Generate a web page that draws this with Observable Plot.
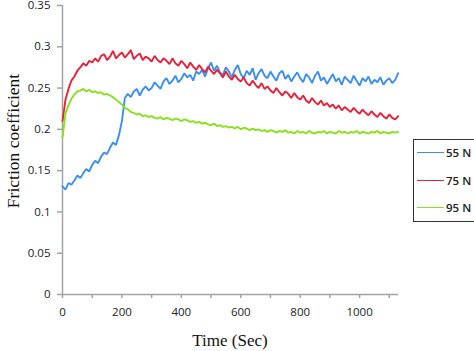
<!DOCTYPE html>
<html>
<head>
<meta charset="utf-8">
<script src="https://cdn.jsdelivr.net/npm/d3@7"></script>
<script src="https://cdn.jsdelivr.net/npm/@observablehq/plot@0.6"></script>
<style>
  html, body { margin: 0; padding: 0; background: #fff; overflow: hidden; }
  #wrap { position: relative; width: 474px; height: 351px; }
  #legend { position: absolute; left: 413px; top: 139px; width: 70px; height: 83px;
    border: 1px solid #333; background: #fff; box-sizing: border-box;
    font-family: "Open Sans", sans-serif; font-weight: 600; font-size: 11.5px; color: #222; }
  .item { position: absolute; left: 3px; display: flex; align-items: center; }
  .sw { width: 27px; height: 0; border-top: 1.5px solid; margin-right: 2px; }
</style>
</head>
<body>
<div id="wrap"><div id="legend"></div></div>
<script>
const seriesNames = ["55 N", "75 N", "95 N"];
const seriesColors = ["#3a8ff0", "#e8203a", "#86e21a"];
const timeStep = 10; // seconds between readings (t = 0, 10, ..., 1130)
const blue55 = [0.131,0.127,0.135,0.133,0.138,0.144,0.141,0.147,0.152,0.149,
  0.157,0.162,0.159,0.167,0.172,0.170,0.178,0.184,0.181,0.193,
  0.210,0.238,0.243,0.239,0.246,0.249,0.241,0.248,0.252,0.247,
  0.250,0.257,0.253,0.249,0.258,0.262,0.255,0.259,0.265,0.257,
  0.261,0.268,0.263,0.266,0.259,0.270,0.267,0.272,0.264,0.274,
  0.281,0.271,0.277,0.269,0.266,0.275,0.270,0.263,0.272,0.278,
  0.267,0.262,0.271,0.266,0.274,0.260,0.268,0.273,0.265,0.262,
  0.270,0.264,0.259,0.268,0.271,0.261,0.266,0.258,0.264,0.269,
  0.262,0.257,0.267,0.263,0.256,0.265,0.270,0.259,0.263,0.255,
  0.261,0.267,0.258,0.262,0.254,0.264,0.260,0.256,0.265,0.259,
  0.253,0.262,0.258,0.264,0.255,0.260,0.257,0.263,0.254,0.259,
  0.262,0.256,0.260,0.268];
const red75 = [0.210,0.236,0.249,0.259,0.264,0.271,0.275,0.280,0.277,0.283,
  0.281,0.286,0.282,0.289,0.291,0.284,0.288,0.295,0.286,0.290,
  0.293,0.287,0.291,0.296,0.285,0.289,0.292,0.284,0.288,0.286,
  0.282,0.289,0.284,0.281,0.286,0.283,0.279,0.286,0.280,0.277,
  0.283,0.279,0.274,0.281,0.276,0.272,0.278,0.273,0.269,0.276,
  0.271,0.267,0.272,0.268,0.263,0.270,0.264,0.260,0.266,0.261,
  0.258,0.263,0.256,0.253,0.259,0.254,0.250,0.256,0.249,0.252,
  0.247,0.244,0.250,0.245,0.241,0.246,0.243,0.238,0.244,0.239,
  0.236,0.241,0.235,0.232,0.238,0.233,0.230,0.235,0.229,0.232,
  0.227,0.230,0.225,0.229,0.223,0.227,0.224,0.221,0.226,0.222,
  0.219,0.224,0.220,0.217,0.222,0.218,0.215,0.220,0.216,0.213,
  0.218,0.214,0.212,0.216];
const green95 = [0.190,0.219,0.229,0.237,0.242,0.246,0.247,0.249,0.246,0.248,
  0.245,0.246,0.244,0.245,0.242,0.243,0.241,0.239,0.236,0.233,
  0.230,0.226,0.224,0.221,0.220,0.218,0.219,0.216,0.217,0.215,
  0.216,0.214,0.213,0.215,0.212,0.214,0.213,0.211,0.213,0.212,
  0.210,0.212,0.211,0.209,0.210,0.208,0.209,0.207,0.208,0.206,
  0.205,0.207,0.204,0.205,0.203,0.204,0.202,0.203,0.201,0.203,
  0.200,0.202,0.201,0.199,0.201,0.199,0.200,0.198,0.199,0.197,
  0.199,0.198,0.196,0.198,0.197,0.199,0.196,0.197,0.195,0.198,
  0.196,0.197,0.195,0.198,0.196,0.195,0.197,0.196,0.198,0.195,
  0.197,0.196,0.195,0.198,0.196,0.197,0.195,0.197,0.196,0.198,
  0.195,0.197,0.196,0.195,0.197,0.196,0.198,0.195,0.197,0.196,
  0.195,0.197,0.196,0.197];
const xTicks = d3.range(0, 1101, 100);
const xLabels = [0, 200, 400, 600, 800, 1000];
const yTicks = [0, 0.05, 0.1, 0.15, 0.2, 0.25, 0.3, 0.35];
const xTitle = "Time (Sec)";
const yTitle = "Friction coefficient";

const allSeries = [blue55, red75, green95];
const data = [];
allSeries.forEach((arr, i) => arr.forEach((v, j) => data.push({series: seriesNames[i], t: j * timeStep, v})));

const axisColor = "#a3a3a3";
const chart = Plot.plot({
  width: 474, height: 351,
  marginLeft: 62, marginRight: 76, marginTop: 5, marginBottom: 57,
  style: {background: "#fff", fontFamily: "'Open Sans', sans-serif", fontSize: "11.5px", color: "#222"},
  x: {domain: [0, 1131]},
  y: {domain: [0, 0.35]},
  color: {domain: seriesNames, range: seriesColors},
  marks: [
    Plot.axisX({ticks: xTicks, tickSize: 4, tickPadding: 9, stroke: axisColor, strokeWidth: 1.5,
      tickFormat: d => xLabels.includes(d) ? String(d) : "", label: null}),
    Plot.axisY({ticks: yTicks, tickSize: 5, tickPadding: 7, stroke: axisColor, strokeWidth: 1.5,
      tickFormat: d => String(+d.toFixed(2)), label: null}),
    Plot.ruleY([0], {stroke: axisColor, strokeWidth: 1.5}),
    Plot.ruleX([0], {stroke: axisColor, strokeWidth: 1.5}),
    Plot.line(data, {x: "t", y: "v", z: "series", stroke: "series", strokeWidth: 1.9, strokeLinejoin: "miter"}),
  ]
});
const wrap = document.getElementById("wrap");
wrap.insertBefore(chart, wrap.firstChild);

// axis titles (serif) added as SVG text
const svg = d3.select(chart);
svg.append("text").attr("x", 230).attr("y", 346).attr("text-anchor", "middle")
  .attr("font-family", "'Liberation Serif', 'DejaVu Serif', serif").attr("font-size", 17).attr("fill", "#111").text(xTitle);
svg.append("text").attr("transform", "translate(19,141) rotate(-90)").attr("text-anchor", "middle")
  .attr("font-family", "'Liberation Serif', 'DejaVu Serif', serif").attr("font-size", 17.5).attr("fill", "#111").text(yTitle);

// legend
const legend = document.getElementById("legend");
const tops = [13, 41, 68];
seriesNames.forEach((n, i) => {
  const it = document.createElement("div");
  it.className = "item";
  it.style.top = (tops[i] - 8) + "px";
  it.innerHTML = `<span class="sw" style="border-color:${seriesColors[i]}"></span><span>${n}</span>`;
  legend.appendChild(it);
});
</script>
</body>
</html>
